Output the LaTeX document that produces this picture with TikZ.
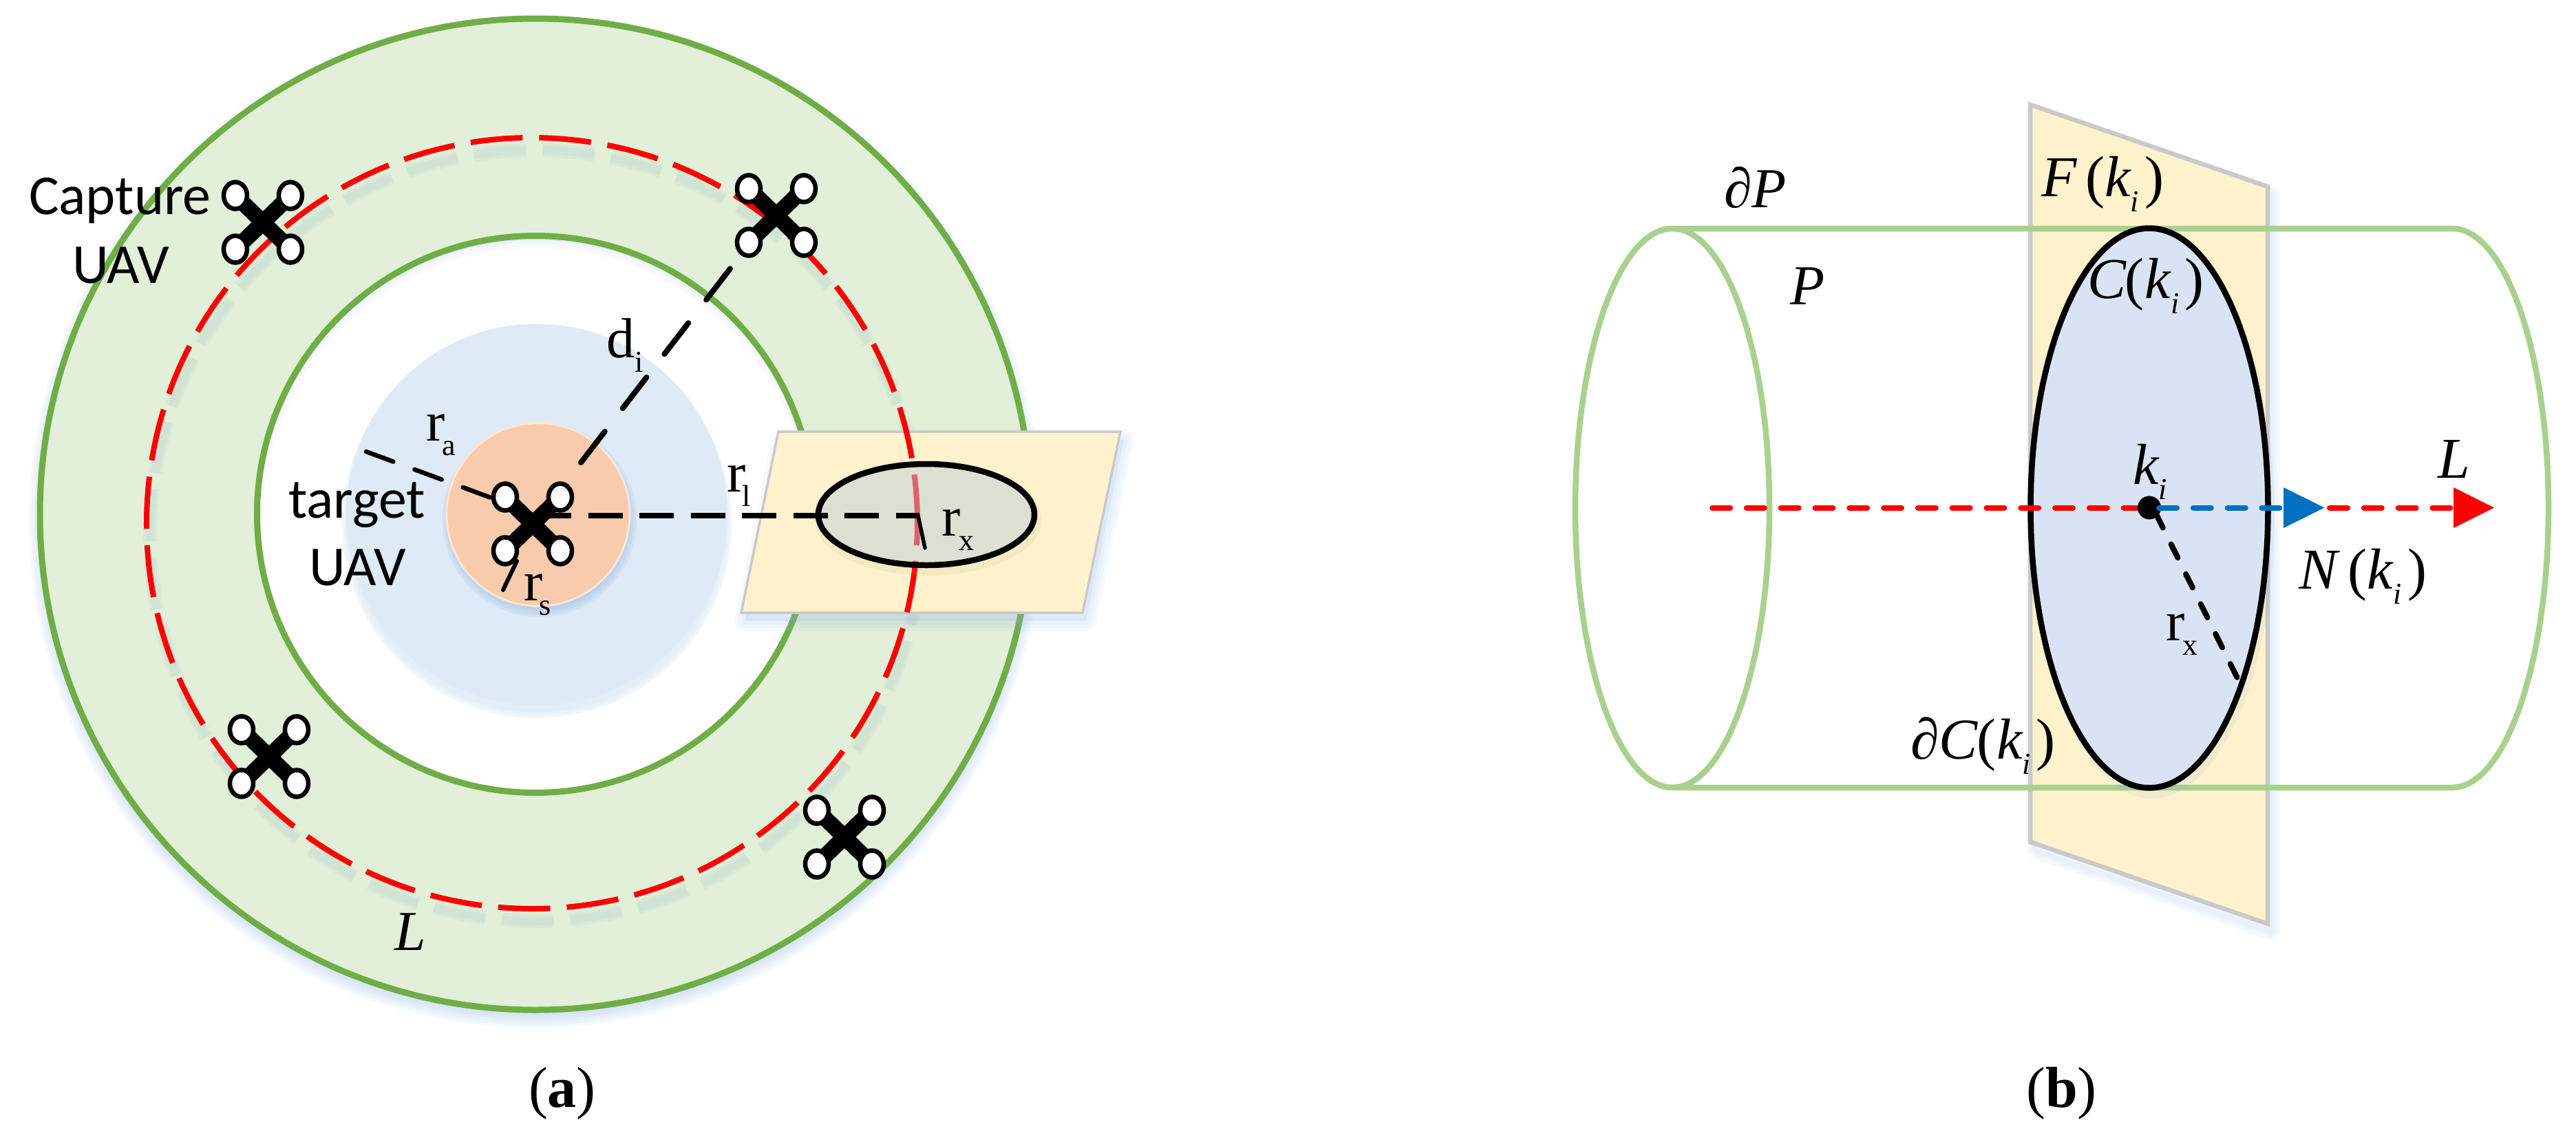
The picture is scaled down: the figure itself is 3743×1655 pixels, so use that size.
\documentclass[tikz,border=0pt]{standalone}
\usepackage{fontspec}
\setmainfont{Liberation Serif}
\newfontfamily\carlito{Carlito}
\newcommand\fs[1]{\fontsize{#1}{#1}\selectfont}
\newcommand\subi[2]{\raisebox{-#1pt}{\fs{44}#2}}
\newcommand\rsub[2]{r\kern#2pt\subi{21}{#1}}
\newcommand\kif{{\itshape k}\subi{22}{\itshape i}}
\definecolor{ringgreen}{HTML}{70AD47}
\definecolor{ringfill}{HTML}{E2EFD9}
\definecolor{cylgreen}{HTML}{A9D18E}
\definecolor{discblue}{HTML}{DEEAF6}
\definecolor{discorange}{HTML}{F7CBAC}
\definecolor{discedge}{HTML}{FBE5D6}
\definecolor{planefill}{HTML}{FFF2CC}
\definecolor{planeedge}{HTML}{C9C9C9}
\definecolor{diskfill}{HTML}{DAE3F3}
\definecolor{softblue}{HTML}{8FB4E3}
\definecolor{softteal}{HTML}{A5CBC8}
\definecolor{arrowblue}{HTML}{0070C0}
\tikzset{
  lab/.style={inner sep=0pt,outer sep=0pt,anchor=base west,font=\fs{82}},
  sanslab/.style={lab,font=\carlito\fs{82}},
  caplab/.style={lab,font=\fs{84}},
  redarc/.style={red,line width=8pt},
  redshadow/.style={softteal,line width=#1,opacity=.14},
  blackdash/.style={black,line width=8pt,line cap=round},
  planeshape/.style={fill=planefill,draw=planeedge,line join=miter},
  cyl/.style={cylgreen,line width=8.5pt},
  flowdash/.style={line width=8pt,line cap=round,dash pattern=on 26pt off 23.8pt},
  softlayer/.style={softblue,line width=#1,line join=round,opacity=.07},
}
\newcommand\dronepic[3]{%
  \begin{scope}[shift={(#1,#2)}]
    \coordinate (#3) at (0,0);
    \draw[black,line width=23pt] (-40,-39) -- (40,39) (-40,39) -- (40,-39);
    \foreach \sx in {-40,40}\foreach \sy in {-39,39}
      \draw[black,fill=white,line width=6.5pt] (\sx,\sy) circle[x radius=17,y radius=19.5];
  \end{scope}}
\begin{document}
\begin{tikzpicture}[x=1pt,y=-1pt]
\useasboundingbox (0,0) rectangle (3743,1655);
% ---------- panel a: rings
\foreach \d in {16,12,8,4,0,-4,-8}
  \fill[softblue,opacity=.08] (778,757) circle[radius=720+\d];
\fill[ringfill] (778,747) circle[radius=720];
\draw[ringgreen,line width=9pt] (778,747) circle[radius=720];
\begin{scope}
  \clip (778,747) circle[radius=404];
  \fill[softblue!45!white] (778,747) circle[radius=404];
  \foreach \d in {8,4,0,-4}
    \fill[white,opacity=.45] (778,757) circle[radius=404+\d];
  \fill[white] (778,757) circle[radius=396];
\end{scope}
\draw[ringgreen,line width=9pt] (778,747) circle[radius=404.5];
\foreach \d in {6,2,-2}
  \fill[discblue,opacity=.4] (780,760) circle[radius=277+\d];
\fill[discblue] (780,747.5) circle[radius=277];
\foreach \d in {8,4,0,-4}
  \fill[softblue,opacity=.16] (784,755) circle[radius=133+\d];
\fill[discorange] (782,747.5) circle[radius=133];
\draw[discedge,line width=3pt] (782,747.5) circle[radius=133];
% red path shadow
\foreach \w in {20,12}
  \draw[redshadow=\w pt,dash pattern=on 75.8pt off 24pt] ([shift={(778,778)}]5.6:560) arc[start angle=5.6,end angle=352.9,radius=560];
% plane a
\coordinate (pa1) at (1131,627);
\coordinate (pa2) at (1628,627);
\coordinate (pa3) at (1573,890);
\coordinate (pa4) at (1077,890);
\foreach \w in {30,20,10}
  \draw[softlayer=\w pt,fill=softblue,fill opacity=.05] ([shift={(5,12)}]pa1) -- ([shift={(5,12)}]pa2) -- ([shift={(5,12)}]pa3) -- ([shift={(5,12)}]pa4) -- cycle;
\draw[planeshape,line width=3.5pt] (pa1) -- (pa2) -- (pa3) -- (pa4) -- cycle;
% red dashed track
\draw[redarc,dash pattern=on 75.8pt off 24pt] ([shift={(773,760)}]5.6:560) arc[start angle=5.6,end angle=352.9,radius=560];
\draw[redarc] ([shift={(773,760)}]-7.1:560) arc[start angle=-7.1,end angle=3.3,radius=560];
% ellipse on plane
\fill[fill=black!30!planefill,opacity=.12] (1349,756) circle[x radius=165,y radius=80];
\fill[fill={rgb,255:red,190;green,210;blue,233},opacity=.42] (1346,747.5) circle[x radius=157,y radius=73.5];
\draw[black,line width=8.5pt] (1346,747.5) circle[x radius=157,y radius=73.5];
% black dimension lines
\coordinate (tgt) at (774,761);
\coordinate (di0) at (844,672);
\coordinate (di1) at (1065,385);
\draw[blackdash,dash pattern=on 57pt off 42.5pt] (di0) -- (di1);
\coordinate (ra0) at (532,656);
\coordinate (ra1) at (716,724);
\draw[blackdash,line width=6.5pt,dash pattern=on 42pt off 33pt] (ra0) -- (ra1);
\coordinate (rl0) at (780,749);
\coordinate (rl1) at (1336,749);
\coordinate (rx1) at (1344,796);
\draw[black,line width=8pt,dash pattern=on 50pt off 24.5pt] (rl0) -- (rl1);
\draw[black,line width=5.5pt,line cap=round] (1334,749) -- (rx1);
\coordinate (rs0) at (751,815);
\coordinate (rs1) at (731,857);
\draw[black,line width=6pt,line cap=round] (rs0) -- (rs1);
% drones
\dronepic{774}{761}{droneT}
\dronepic{382}{323}{droneA}
\dronepic{1128}{313}{droneB}
\dronepic{391}{1099}{droneC}
\dronepic{1227}{1216}{droneD}
% labels a
\node[sanslab] (capture) at (42,311) {Capture};
\node[sanslab] (uavA) at (105,411) {UAV};
\node[sanslab] (target) at (419,752) {target};
\node[sanslab] (uavB) at (449,850) {UAV};
\node[lab] (lra) at (619,640) {\rsub{a}{-4}};
\node[lab] (ldi) at (881,519) {d\kern0pt\subi{21}{i}};
\node[lab] (lrl) at (1056,714.5) {\rsub{l}{-5}};
\node[lab] (lrx) at (1368,778) {\rsub{x}{-2}};
\node[lab] (lrs) at (761,872) {\rsub{s}{-5}};
\node[lab] (lLa) at (573,1380) {\itshape L};
\node[caplab] (capa) at (768,1608) {(\textbf{a})};
% ---------- panel b
\coordinate (pb1) at (2950,152);
\coordinate (pb2) at (3295,271);
\coordinate (pb3) at (3295,1342);
\coordinate (pb4) at (2950,1223);
\foreach \w in {24,16,8}
  \draw[softlayer=\w pt] ([shift={(6,12)}]pb1) -- ([shift={(6,12)}]pb2) -- ([shift={(6,12)}]pb3) -- ([shift={(6,12)}]pb4) -- cycle;
\draw[planeshape,line width=6.5pt] (pb1) -- (pb2) -- (pb3) -- (pb4) -- cycle;
% cylinder
\coordinate (ctl) at (2431,332);
\coordinate (ctr) at (3563,332);
\coordinate (cbl) at (2431,1144);
\coordinate (cbr) at (3563,1144);
\draw[cyl] (2430,738) circle[x radius=141,y radius=406];
\draw[cyl] (ctl) -- (ctr) arc[start angle=-90,end angle=90,x radius=140,y radius=406] -- (cbl);
% disk
\fill[softblue,opacity=.12] (3127,748) circle[x radius=178,y radius=412];
\fill[diskfill] (3123,738) circle[x radius=172.5,y radius=406.5];
\draw[black,line width=8.5pt] (3123,738) circle[x radius=172.5,y radius=406.5];
% axis
\coordinate (axS) at (2488,737.5);
\coordinate (axK) at (3123,737.5);
\coordinate (axB) at (3320,737.5);
\coordinate (axC) at (3385,737.5);
\coordinate (axR) at (3568,737.5);
\draw[red,flowdash] (axS) -- (3106,737.5);
\fill[black] (axK) circle[x radius=17,y radius=17];
\draw[arrowblue,flowdash] (3137,737.5) -- (axB);
\draw[red,flowdash] (axC) -- (axR);
\fill[arrowblue] (3318,708) -- (3377.5,737.5) -- (3318,767) -- cycle;
\fill[red] (3565,708) -- (3624,737.5) -- (3565,767) -- cycle;
\coordinate (rb0) at (3133,747);
\coordinate (rb1) at (3256,995);
\draw[black,line width=8pt,line cap=round,dash pattern=on 22pt off 26.5pt] (rb0) -- (rb1);
% labels b
\node[lab] (ldP) at (2505,301) {∂\textit{P}};
\node[lab] (lP) at (2601,442) {\itshape P};
\node[lab,font=\fs{84}] (lF) at (2966,285) {\textit{F}\kern12pt(\kif\kern9pt)};
\node[lab,font=\fs{84}] (lC) at (3033,433) {\textit{C}\kern-2pt(\kern1pt\kif\kern8pt)};
\node[lab,font=\fs{84}] (lk) at (3099,703) {\kif};
\node[lab,font=\fs{84}] (lLb) at (3542,694) {\itshape L};
\node[lab,font=\fs{84}] (lN) at (3340,855) {\textit{N}\kern12pt(\kif\kern9pt)};
\node[lab] (lrxb) at (3147,930) {\rsub{x}{-3}};
\node[lab,font=\fs{84}] (ldC) at (2776,1102) {∂\textit{C}\kern-2pt(\kern1pt\kif\kern8pt)};
\node[caplab] (capb) at (2944,1608) {(\textbf{b})};
\end{tikzpicture}
\end{document}
